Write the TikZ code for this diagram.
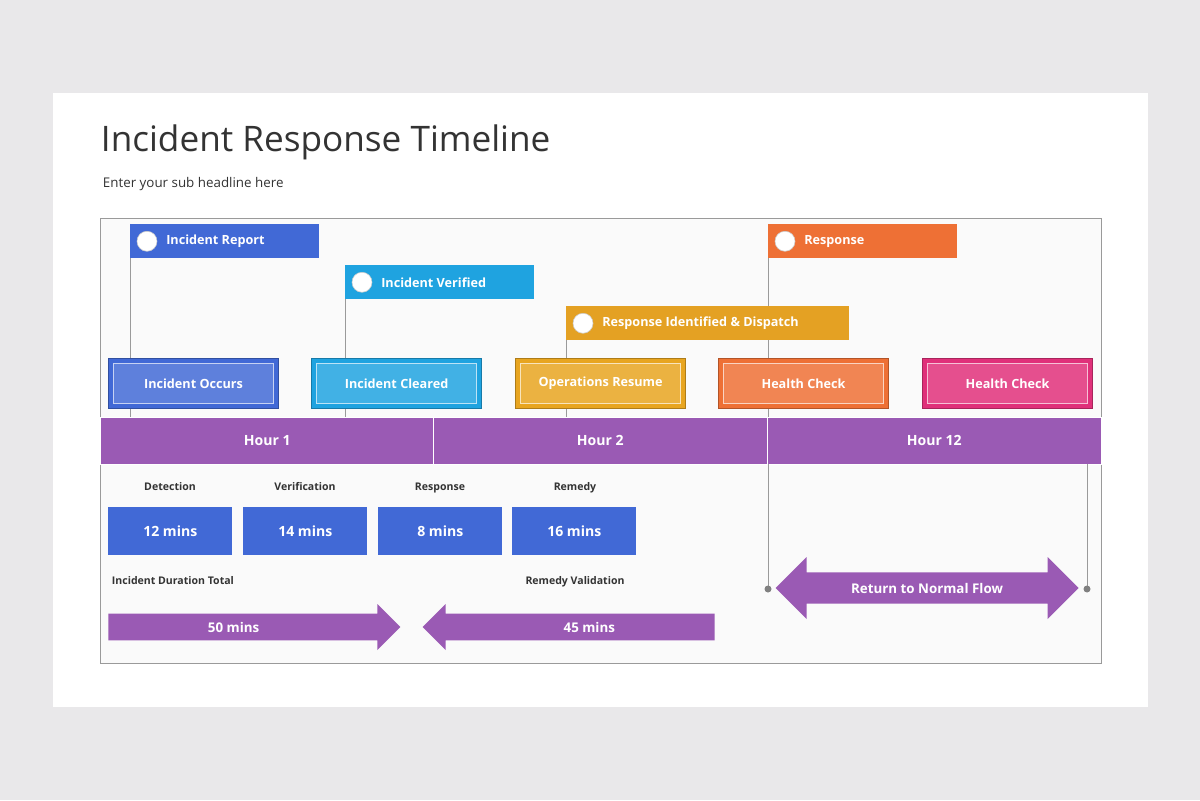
\documentclass[tikz,border=0pt]{standalone}
\usepackage{fontspec}
\setmainfont{Open Sans}
\usetikzlibrary{arrows.meta, positioning, calc, shapes.arrows}

\definecolor{bgGray}{HTML}{E9E8EA}
\definecolor{frameGray}{HTML}{9A9A9A}
\definecolor{cBlue}{HTML}{4169D6}
\definecolor{cCyan}{HTML}{1FA3E0}
\definecolor{cAmber}{HTML}{E8A520}
\definecolor{cOrange}{HTML}{EE7035}
\definecolor{cPink}{HTML}{E0307A}
\definecolor{cPurple}{HTML}{9A5AB4}
\definecolor{txtDark}{HTML}{333333}

\begin{document}
\begin{tikzpicture}[x=0.025cm, y=-0.025cm,
  flag/.style = {fill=#1, minimum width=189*0.025cm, minimum height=34*0.025cm,
    anchor=north west, inner sep=0pt},
  flagtext/.style = {anchor=west, text=white, inner sep=0pt, font=\bfseries\fontsize{9}{11}\selectfont},
  pole/.style = {draw=frameGray, thin},
  step/.style = {fill=#1, draw=#1!75!black, thick, minimum width=170*0.025cm,
    minimum height=50*0.025cm, anchor=north west, text=white,
    font=\bfseries\fontsize{9}{11}\selectfont},
  inner/.style = {draw=white!70!#1, fill=#1!85!white, minimum width=160*0.025cm,
    minimum height=40*0.025cm},
  hour/.style = {fill=cPurple, draw=white, minimum width=334*0.025cm,
    minimum height=47*0.025cm, anchor=north west, text=white,
    font=\bfseries\fontsize{10}{12}\selectfont},
  mins/.style = {fill=cBlue, minimum width=124*0.025cm, minimum height=48*0.025cm,
    anchor=north west, text=white, font=\bfseries\fontsize{10}{12}\selectfont},
  small/.style = {text=txtDark, anchor=base, font=\bfseries\fontsize{7.5}{9}\selectfont},
  dot/.style = {circle, fill=white, draw=gray!40, minimum size=20*0.025cm, inner sep=0pt}
]
  \useasboundingbox (0,0) rectangle (1200,800);
  \fill[bgGray] (0,0) rectangle (1200,800);
  \fill[white] (53,93) rectangle (1148,707);

  % headline
  \node[anchor=west, text=txtDark, font=\fontsize{25}{30}\selectfont] (title) at (96,142) {Incident Response Timeline};
  \node[anchor=west, text=txtDark, font=\fontsize{9.5}{12}\selectfont] (sub) at (98,184) {Enter your sub headline here};

  % frame
  \draw[frameGray, fill=gray!4] (100,218) rectangle (1101,663);

  % poles
  \draw[pole] (130,224) -- (130,417);
  \draw[pole] (345,265) -- (345,417);
  \draw[pole] (566,306) -- (566,417);
  \draw[pole] (768,224) -- (768,417);

  % flags
  \node[flag=cBlue] (fReport) at (130,224) {};
  \node[flag=cCyan] (fVerified) at (345,265) {};
  \node[flag=cAmber!90!brown, minimum width=283*0.025cm] (fDispatch) at (566,306) {};
  \node[flag=cOrange] (fResponse) at (768,224) {};
  \foreach \n/\t in {fReport/Incident Report, fVerified/Incident Verified,
                     fDispatch/Response Identified \& Dispatch, fResponse/Response} {
    \node[dot] at ([xshift=17*0.025cm]\n.west) {};
    \node[flagtext] at ([xshift=36*0.025cm]\n.west) {\t};
  }

  % steps
  \node[step=cBlue] (occurs) at (108,358) {};
  \node[step=cCyan] (cleared) at (311,358) {};
  \node[step=cAmber] (resume) at (515,358) {};
  \node[step=cOrange] (check1) at (718,358) {};
  \node[step=cPink] (check2) at (922,358) {};
  \foreach \n/\c/\t in {occurs/cBlue/Incident Occurs, cleared/cCyan/Incident Cleared,
                        resume/cAmber/Operations Resume, check1/cOrange/Health Check,
                        check2/cPink/Health Check}
    \node[inner=\c, text=white, font=\bfseries\fontsize{9}{11}\selectfont] at (\n.center) {\t};

  % hours
  \node[hour] (h1) at (100,417) {Hour 1};
  \node[hour] (h2) at (433,417) {Hour 2};
  \node[hour] (h12) at (767,417) {Hour 12};

  % durations
  \node[mins] (m1) at (108,507) {12 mins};
  \node[mins] (m2) at (243,507) {14 mins};
  \node[mins] (m3) at (378,507) {8 mins};
  \node[mins] (m4) at (512,507) {16 mins};
  \node[small] at (170,490) {Detection};
  \node[small] at (305,490) {Verification};
  \node[small] at (440,490) {Response};
  \node[small] at (575,490) {Remedy};

  \node[small, anchor=base west] (total) at (107,584) {Incident Duration Total};
  \node[small] (valid) at (575,584) {Remedy Validation};

  % big arrows
  \node[single arrow, fill=cPurple, text=white, anchor=west, minimum height=292*0.025cm,
    minimum width=46*0.025cm, single arrow head extend=6*0.025cm, inner sep=2pt,
    font=\bfseries\fontsize{9.5}{11}\selectfont] (a50) at (108,627) {\hspace*{1.2cm}50 mins\hspace*{1.9cm}};
  \node[single arrow, shape border rotate=180, fill=cPurple, text=white, anchor=east, minimum height=292*0.025cm,
    minimum width=46*0.025cm, single arrow head extend=6*0.025cm, inner sep=2pt,
    font=\bfseries\fontsize{9.5}{11}\selectfont] (a45) at (715,627) {\hspace*{1.9cm}45 mins\hspace*{1.2cm}};

  % return flow
  \coordinate (lTop) at (768,464);
  \coordinate (lBot) at (768,589);
  \coordinate (rTop) at (1087,464);
  \coordinate (rBot) at (1087,589);
  \draw[frameGray] (lTop) -- (lBot);
  \draw[frameGray] (rTop) -- (rBot);
  \fill[gray] (lBot) circle (3.5*0.025cm) (rBot) circle (3.5*0.025cm);
  \node[double arrow, fill=cPurple, text=white, minimum height=303*0.025cm,
    minimum width=62*0.025cm, double arrow head extend=10*0.025cm,
    font=\bfseries\fontsize{9.5}{11}\selectfont] (ret) at (927,588) {Return to Normal Flow};
\end{tikzpicture}
\end{document}
